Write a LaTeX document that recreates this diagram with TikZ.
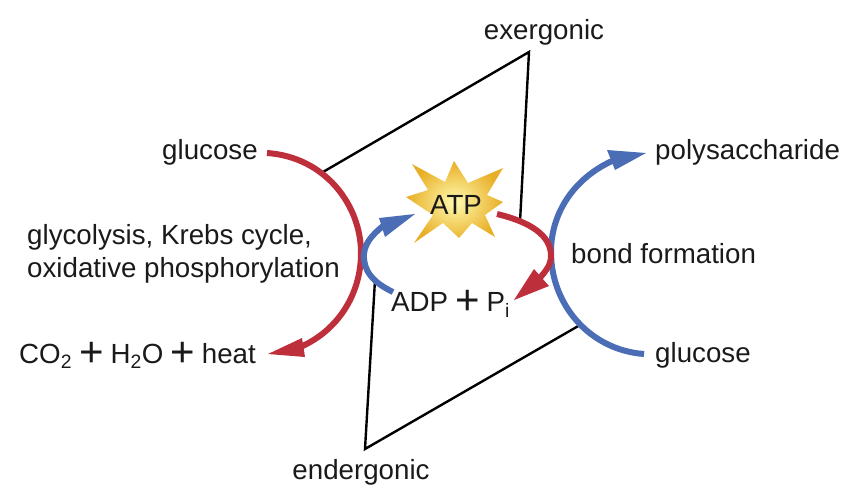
\documentclass[tikz,border=0pt]{standalone}
\usepackage{fontspec}
\setmainfont{Liberation Sans}
\definecolor{redc}{HTML}{BE2F3C}
\definecolor{bluec}{HTML}{4A6DB5}
\definecolor{txt}{HTML}{1A1A1A}
\definecolor{goldout}{HTML}{E8AE25}
\definecolor{goldmid}{HTML}{FFE23A}
\definecolor{goldin}{HTML}{FFFBB0}
\newcommand{\bigplus}{\kern7pt\raisebox{-3pt}{\fontsize{42pt}{42pt}\selectfont +}\kern7pt}
\tikzset{
 lab/.style={inner sep=0pt,font=\fontsize{27.7pt}{33pt}\selectfont,text=txt,align=left},
 plane/.style={line width=2.4pt,black},
 redarc/.style={line width=6pt,redc},
 bluearc/.style={line width=6pt,bluec},
}
\begin{document}
\begin{tikzpicture}[x=1pt,y=-1pt]
\useasboundingbox (0,0) rectangle (844,501);
\coordinate (p1) at (529,52);
\coordinate (p2) at (323,172);
\coordinate (p3) at (520,222);
\coordinate (p4) at (375,280);
\coordinate (p5) at (365,449);
\coordinate (p6) at (580,325);
\draw[plane,line join=miter] (p2) -- (p1) -- (p3);
\draw[plane,line join=miter] (p4) -- (p5) -- (p6);
\path[shade,inner color=goldin,middle color=goldmid,outer color=goldout] (454,161) -- (468,183) -- (503,168) -- (487,195) -- (503,202) -- (485,215) -- (495,237) -- (472,223) -- (459,238) -- (443,223) -- (414,243) -- (433,215) -- (406,197) -- (428,190) -- (412,164) -- (445,182) -- cycle;
\node[lab] (atp) at (456,205) {ATP};
\node[lab,anchor=west] (g1) at (162,152) {glucose};
\node[lab,anchor=west] (gly) at (27,254) {glycolysis, Krebs cycle,\\oxidative phosphorylation};
\node[lab,anchor=west] (co2) at (19,355) {CO\textsubscript{2}\bigplus H\textsubscript{2}O\bigplus heat};
\node[lab,anchor=west] (adp) at (391,304) {ADP\bigplus P\textsubscript{i}};
\node[lab,anchor=west] (bond) at (571,254) {bond formation};
\node[lab,anchor=west] (poly) at (655,152) {polysaccharide};
\node[lab,anchor=west] (g2) at (655,355) {glucose};
\node[lab] (ex) at (544,32) {exergonic};
\node[lab] (en) at (361,472) {endergonic};
\draw[redarc] (267,153) .. controls (325,157) and (361,205) .. (361,253) .. controls (361,295) and (337,332) .. (298,348);
\fill[redc] (268,354) -- (302,338) -- (305,357) -- cycle;
\draw[bluearc] (644,354) .. controls (590,350) and (551,305) .. (551,252) .. controls (551,212) and (575,178) .. (612,161);
\fill[bluec] (646,153) -- (607,150) -- (615,170) -- cycle;
\draw[redarc] (497,214) .. controls (530,222) and (551,235) .. (551,256) .. controls (551,264) and (547,270) .. (538,280);
\fill[redc] (514,300) -- (534,269) -- (549,286) -- cycle;
\draw[bluearc] (393,292) .. controls (372,282) and (363,270) .. (364,254) .. controls (365,243) and (372,235) .. (383,226);
\fill[bluec] (415,214) -- (379,218) -- (385,237) -- cycle;
\end{tikzpicture}
\end{document}
